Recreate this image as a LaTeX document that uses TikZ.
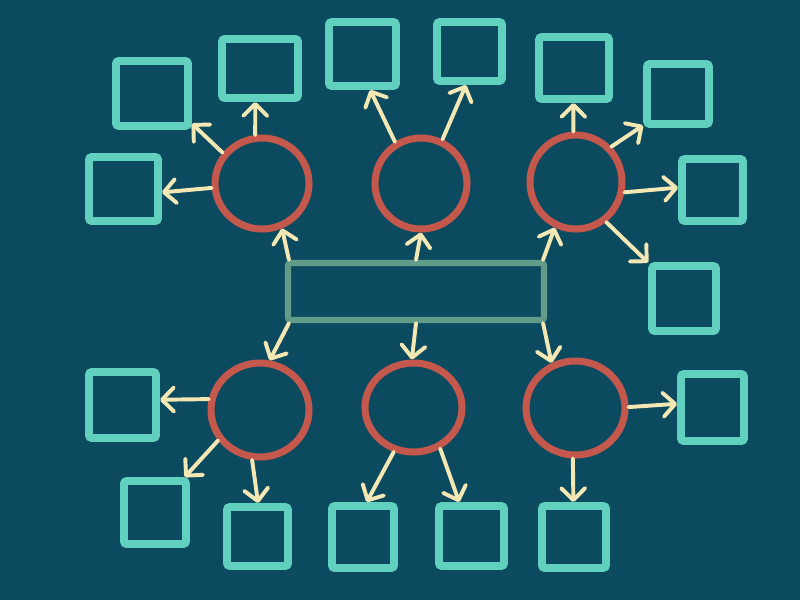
\documentclass[tikz,border=0pt]{standalone}
\usetikzlibrary{arrows.meta,shapes.geometric,calc}
\definecolor{bgc}{RGB}{12,74,95}
\definecolor{sqc}{RGB}{98,208,190}
\definecolor{circc}{RGB}{196,88,76}
\definecolor{arrc}{RGB}{243,231,180}
\definecolor{rectc}{RGB}{96,156,136}
\tikzset{
  sq/.style 2 args={draw=sqc, line width=5.6pt, rounded corners=2pt, inner sep=0pt,
    minimum width=#1*0.025cm, minimum height=#2*0.025cm},
  bub/.style 2 args={ellipse, draw=circc, line width=5pt, inner sep=0pt,
    minimum width=#1*0.025cm, minimum height=#2*0.025cm},
  hub/.style={draw=rectc, line width=4.5pt, rounded corners=2pt, inner sep=0pt,
    minimum width=256*0.025cm, minimum height=57*0.025cm},
  arr/.style={draw=arrc, line width=2.8pt, line cap=round,
    -{Straight Barb[round, length=8.5pt, width=17pt]}}
}
\begin{document}
\begin{tikzpicture}[x=0.025cm, y=-0.025cm]
  \fill[bgc] (0,0) rectangle (800,600);
  \useasboundingbox (0,0) rectangle (800,600);
  % squares
  \node[sq={72}{65}] (s1) at (152,93.5) {};
  \node[sq={76}{59}] (s2) at (260,68.5) {};
  \node[sq={67}{64}] (s3) at (362.5,54) {};
  \node[sq={65}{59}] (s4) at (469.5,51.5) {};
  \node[sq={70}{62}] (s5) at (574,68) {};
  \node[sq={62}{60}] (s6) at (678,94) {};
  \node[sq={69}{64}] (s7) at (123.5,189) {};
  \node[sq={61}{62}] (s8) at (712.5,190) {};
  \node[sq={64}{65}] (s9) at (684,298.5) {};
  \node[sq={67}{66}] (s10) at (122.5,405) {};
  \node[sq={62}{63}] (s11) at (155,512.5) {};
  \node[sq={61}{59}] (s12) at (257.5,536.5) {};
  \node[sq={62}{62}] (s13) at (363,537) {};
  \node[sq={65}{60}] (s14) at (471.5,536) {};
  \node[sq={64}{62}] (s15) at (574,537) {};
  \node[sq={63}{67}] (s16) at (712.5,407.5) {};
  % circles
  \node[bub={94}{91}] (c1) at (262,183.5) {};
  \node[bub={92}{91}] (c2) at (421,183.5) {};
  \node[bub={92}{94}] (c3) at (576,182) {};
  \node[bub={98}{94}] (c4) at (260,410) {};
  \node[bub={97}{89}] (c5) at (413.5,407.5) {};
  \node[bub={99}{94}] (c6) at (575.5,408) {};
  % hub
  \node[hub] (r) at (416,291.5) {};
  % arrows hub -> circles
  \draw[arr] (r.166) -- (c1.-66);
  \draw[arr] (r.90) -- (c2.-90);
  \draw[arr] (r.14) -- (c3.-115);
  \draw[arr] (r.-166) -- (c4.79);
  \draw[arr] (r.-90) -- (c5.92);
  \draw[arr] (r.-14) -- (c6.118);
  % circle 1
  \draw[arr] (c1.142) -- (s1.-37);
  \draw[arr] (c1.98) -- (s2.-98);
  \draw[arr] (c1.185) -- (s7.-5);
  % circle 2
  \draw[arr] (c2.122) -- (s3.-78);
  \draw[arr] (c2.64) -- (s4.-96);
  % circle 3
  \draw[arr] (c3.93) -- (s5.-91);
  \draw[arr] (c3.45) -- (s6.-138);
  \draw[arr] (c3.-12) -- (s8.176);
  \draw[arr] (c3.-53) -- (s9.135);
  % circle 4
  \draw[arr] (c4.168) -- (s10.8);
  \draw[arr] (c4.-144) -- (s11.50);
  \draw[arr] (c4.-99) -- (s12.89);
  % circle 5
  \draw[arr] (c5.-114) -- (s13.84);
  \draw[arr] (c5.-57) -- (s14.110);
  % circle 6
  \draw[arr] (c6.1) -- (s16.174);
  \draw[arr] (c6.-93) -- (s15.91);
\end{tikzpicture}
\end{document}
